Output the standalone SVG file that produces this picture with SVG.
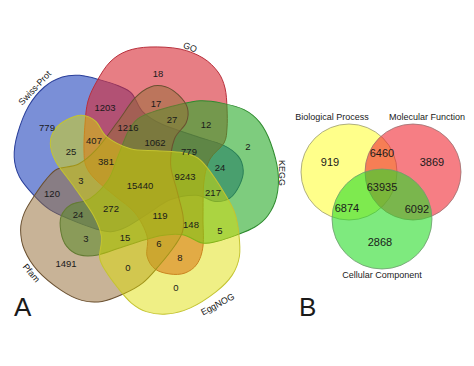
<svg xmlns="http://www.w3.org/2000/svg" xmlns:xlink="http://www.w3.org/1999/xlink" width="474" height="366" viewBox="0 0 474 366">
<style>
text{font-family:"Liberation Sans",Arial,sans-serif;fill:#1a1a1a;text-anchor:middle}
.n{font-size:9.5px}
.lb{font-size:9px}
.nb{font-size:11px}
.big{font-size:26px;text-anchor:start}
.sp{fill:rgb(40,75,190);fill-opacity:.62;stroke:#2a3f9a;stroke-width:1}
.go{fill:rgb(215,40,50);fill-opacity:.6;stroke:#b8303c;stroke-width:1}
.kg{fill:rgb(40,170,40);fill-opacity:.6;stroke:#2e8a2e;stroke-width:1}
.pf{fill:rgb(150,110,55);fill-opacity:.52;stroke:#6a5030;stroke-width:1}
.en{fill:rgb(222,222,0);fill-opacity:.48;stroke:#c4c430;stroke-width:1}
.cy{fill:rgb(255,255,60);fill-opacity:.6;stroke:#9a9a70;stroke-width:.8}
.cr{fill:rgb(240,40,50);fill-opacity:.6;stroke:#9a7070;stroke-width:.8}
.cg{fill:rgb(40,220,40);fill-opacity:.6;stroke:#709a70;stroke-width:.8}
</style>
<defs>
<path id="blob" d="M-56,-27 C-56.2,-34 -55.7,-45.7 -55,-54 S-54,-69.8 -52,-77 S-46.7,-90.5 -43,-97 S-35,-111 -30,-116 S-19.7,-124.5 -13,-127 S1.2,-130.7 10,-131 S31.2,-130.8 40,-129 S56.7,-123.8 63,-120 S74.3,-111 78,-106 S83.5,-96 85,-90 S86.7,-76.7 87,-70 S87.5,-55.8 87,-50 S86.8,-40.2 84,-35 S73.3,-25.3 70,-19 S65.2,-6.5 64,3 S63.2,27.2 63,38 S64,60 63,68 S60,81.5 57,86 S49.5,93.3 45,95 S35,96.7 30,96 S18.8,94 15,91 S8.3,83.5 7,78 S9,65.2 7,58 S0.3,41.7 -5,35 S-18.3,23.7 -25,18 S-40.2,6 -45,1 S-52.2,-7.3 -54,-12 S-55.8,-20 -56,-27 Z"/>
</defs>
<rect width="474" height="366" fill="#fff"/>
<g id="swissprot">
<use xlink:href="#blob" class="sp" transform="translate(139,184) rotate(-72)"/>
<text class="lb" transform="translate(37,90) rotate(-47)">Swiss-Prot</text>
</g>
<g id="go">
<use xlink:href="#blob" class="go" transform="translate(140,178)"/>
<text class="lb" transform="translate(189,50) rotate(22)">GO</text>
</g>
<g id="kegg">
<use xlink:href="#blob" class="kg" transform="translate(143,174) rotate(72)"/>
<text class="lb" transform="translate(279,173) rotate(90)">KEGG</text>
</g>
<g id="pfam">
<use xlink:href="#blob" class="pf" transform="translate(146,190) rotate(216)"/>
<text class="lb" transform="translate(29,275) rotate(50)">Pfam</text>
</g>
<g id="eggnog">
<use xlink:href="#blob" class="en" transform="translate(147,180) rotate(144)"/>
<text class="lb" transform="translate(219,307) rotate(-28)">EggNOG</text>
</g>
<g id="countsA">
<text class="n" x="47" y="130.5">779</text>
<text class="n" x="158" y="76.5">18</text>
<text class="n" x="105" y="110.5">1203</text>
<text class="n" x="156" y="106.5">17</text>
<text class="n" x="172" y="122.5">27</text>
<text class="n" x="206" y="127.5">12</text>
<text class="n" x="128" y="130.5">1216</text>
<text class="n" x="155" y="145.5">1062</text>
<text class="n" x="189" y="154.5">779</text>
<text class="n" x="248" y="149.5">2</text>
<text class="n" x="94" y="143.5">407</text>
<text class="n" x="71" y="154.5">25</text>
<text class="n" x="106" y="164.5">381</text>
<text class="n" x="220" y="170.5">24</text>
<text class="n" x="185" y="179.5">9243</text>
<text class="n" x="81" y="183.5">3</text>
<text class="n" x="140" y="188.5">15440</text>
<text class="n" x="213" y="195.5">217</text>
<text class="n" x="52" y="196.5">120</text>
<text class="n" x="111" y="211.5">272</text>
<text class="n" x="78" y="217.5">24</text>
<text class="n" x="160" y="218.5">119</text>
<text class="n" x="191" y="227.5">148</text>
<text class="n" x="220" y="233.5">5</text>
<text class="n" x="86" y="241.5">3</text>
<text class="n" x="125" y="240.5">15</text>
<text class="n" x="159" y="246.5">6</text>
<text class="n" x="180" y="260.5">8</text>
<text class="n" x="66" y="266.5">1491</text>
<text class="n" x="128" y="270.5">0</text>
<text class="n" x="176" y="290.5">0</text>
</g>
<text class="big" x="14" y="316">A</text>
<g id="bp">
<circle class="cy" cx="349" cy="172" r="48"/>
<text class="lb" x="332" y="120">Biological Process</text>
</g>
<g id="mf">
<circle class="cr" cx="413" cy="172" r="48"/>
<text class="lb" x="427" y="120">Molecular Function</text>
</g>
<g id="cc">
<circle class="cg" cx="382" cy="219" r="50"/>
<text class="lb" x="382" y="278">Cellular Component</text>
</g>
<g id="countsB">
<text class="nb" x="330" y="166">919</text>
<text class="nb" x="382" y="157">6460</text>
<text class="nb" x="432" y="166">3869</text>
<text class="nb" x="382" y="191">63935</text>
<text class="nb" x="347" y="212">6874</text>
<text class="nb" x="417" y="213">6092</text>
<text class="nb" x="380" y="246">2868</text>
</g>
<text class="big" x="299" y="316">B</text>
</svg>
